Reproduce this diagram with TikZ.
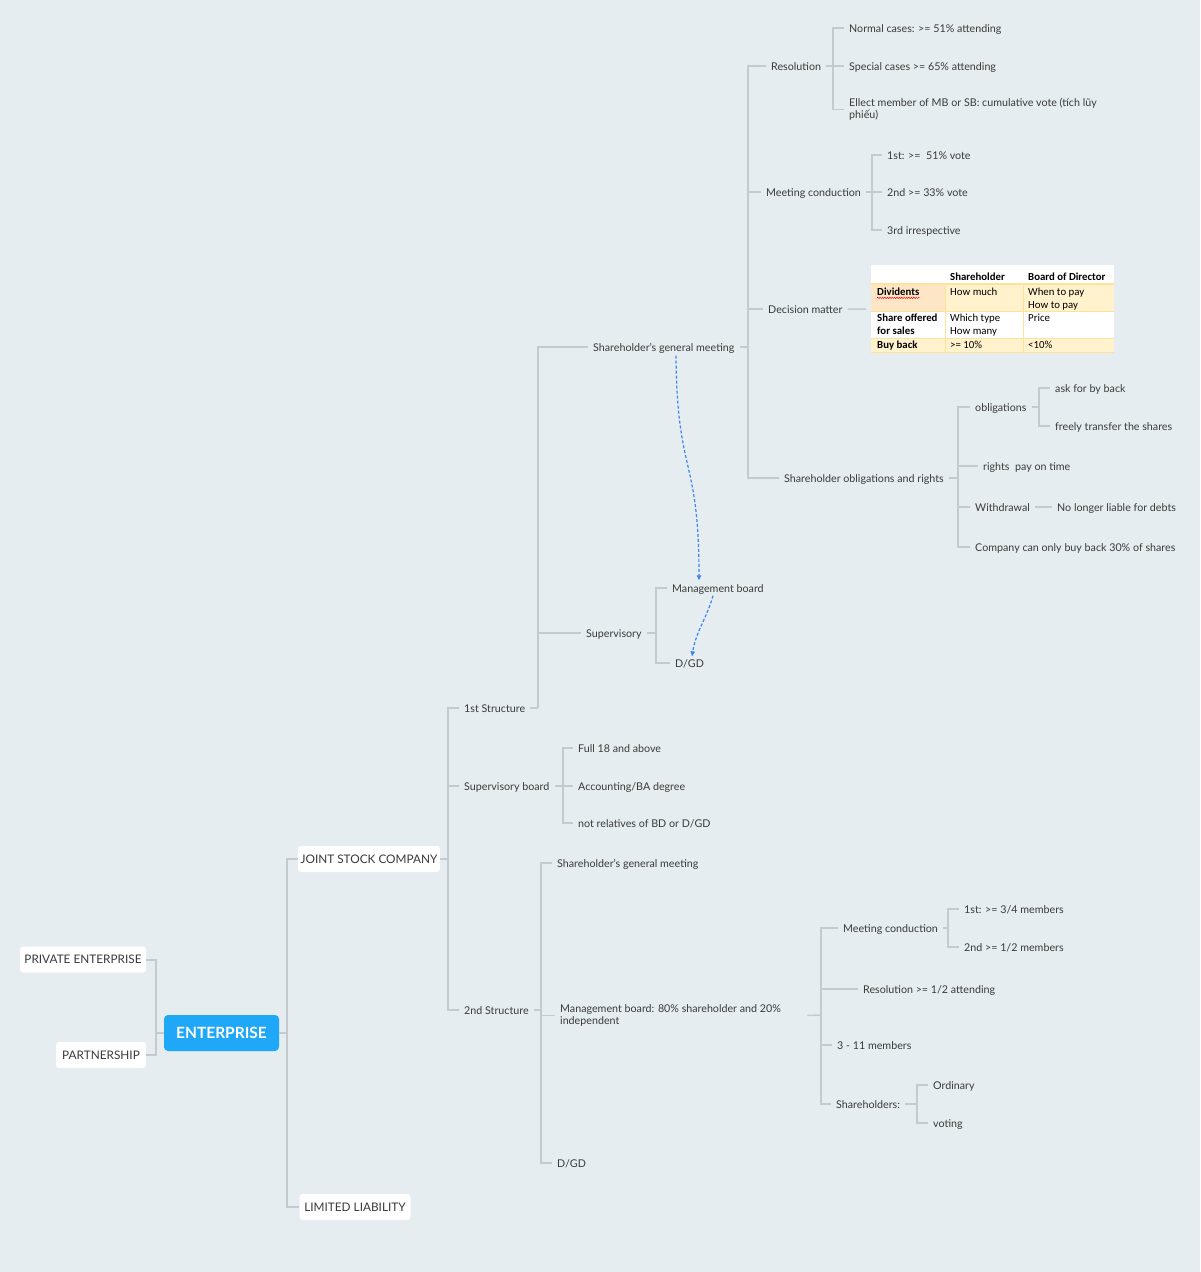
\documentclass[tikz,border=0pt]{standalone}
\usepackage{fontspec}
\setmainfont{Lato}
\newfontfamily\tabfont{Carlito}
\usetikzlibrary{calc,decorations.pathmorphing,arrows.meta}
\definecolor{bg}{HTML}{E6EDF0}
\definecolor{ln}{HTML}{C4CACE}
\definecolor{tx}{HTML}{3A3A3A}
\definecolor{entb}{HTML}{1EA8F7}
\definecolor{arr}{HTML}{3D85F0}
\definecolor{yel}{HTML}{FFF2CC}
\definecolor{yline}{HTML}{FFE29A}
\definecolor{divc}{HTML}{FCE6C6}
\begin{document}
\begin{tikzpicture}[x=1pt,y=-1pt,
 t/.style={anchor=west, inner xsep=5pt, inner ysep=1pt, text=tx, font=\fontsize{10.7}{12}\selectfont, text height=9pt, text depth=0pt},
 tm/.style={anchor=west, inner xsep=5pt, inner ysep=1pt, text=tx, font=\fontsize{10.7}{12}\selectfont, align=left},
 bx/.style={fill=white, rounded corners=3pt, text=tx, font=\fontsize{11.8}{13}\selectfont, minimum height=26pt, inner sep=0pt},
 br/.style={draw=ln, line width=1.5pt},
 br2/.style={draw=ln, line width=2pt},
 da/.style={draw=arr, dash pattern=on 3pt off 2pt, line width=1.2pt, -{Triangle[length=5pt,width=4.5pt]}},
 tb/.style={anchor=west, inner sep=0pt, font=\tabfont\fontsize{10.8}{12}\selectfont, text=black, text height=6.8pt, text depth=0pt},
 tbb/.style={tb, font=\tabfont\bfseries\fontsize{10.8}{12}\selectfont},
]
\useasboundingbox (0,0) rectangle (1200,1272);
\fill[bg] (0,0) rectangle (1200,1272);

% ---------- root and first level ----------
\node[bx, fill=entb, text=white, font=\bfseries\fontsize{15.5}{17}\selectfont, minimum width=115pt, minimum height=36pt, rounded corners=4pt] (ent) at (221.5,1033) {ENTERPRISE};
\node[bx, minimum width=126pt] (pe) at (83,959.5) {PRIVATE ENTERPRISE};
\node[bx, minimum width=90pt] (pa) at (101,1055) {PARTNERSHIP};
\node[bx, minimum width=142pt] (jsc) at (369,859) {JOINT STOCK COMPANY};
\node[bx, minimum width=111pt] (ll) at (355,1207) {LIMITED LIABILITY};

\coordinate (sL) at (156,1033);
\coordinate (sR) at (287,1033);
\draw[br2] (ent.west) -- (sL);
\draw[br2] (sL) |- (pe.east);
\draw[br2] (sL) |- (pa.east);
\draw[br2] (ent.east) -- (sR);
\draw[br2] (sR) |- (jsc.west);
\draw[br2] (sR) |- (ll.west);

% ---------- JSC children ----------
\node[t] (st1) at (459,708) {1st Structure};
\node[t] (svb) at (459,786) {Supervisory board};
\node[t] (st2) at (459,1010) {2nd Structure};
\coordinate (sJ) at (448,859);
\draw[br] (jsc.east) -- (sJ);
\draw[br] (sJ) |- (st1.west);
\draw[br] (sJ) |- (svb.west);
\draw[br] (sJ) |- (st2.west);

% ---------- 1st Structure ----------
\node[t] (sgm) at (588,347) {Shareholder's general meeting};
\node[t] (sup) at (581,633) {Supervisory};
\coordinate (sS1) at (538,708);
\draw[br] (st1.east) -- (sS1);
\draw[br] (sS1) |- (sgm.west);
\draw[br] (sS1) |- (sup.west);

% ---------- Shareholder's general meeting ----------
\node[t] (res) at (766,66) {Resolution};
\node[t] (mc) at (761,192) {Meeting conduction};
\node[t] (dm) at (763,309) {Decision matter};
\node[t] (sor) at (779,478) {Shareholder obligations and rights};
\coordinate (sSG) at (748,347);
\draw[br] (sgm.east) -- (sSG);
\draw[br] (sSG) |- (res.west);
\draw[br] (sSG) |- (mc.west);
\draw[br] (sSG) |- (dm.west);
\draw[br] (sSG) |- (sor.west);

% Resolution
\node[t] (nc) at (844,28) {Normal cases: >= 51\% attending};
\node[t] (sc) at (844,66) {Special cases >= 65\% attending};
\node[tm] (el) at (844,109.5) {Ellect member of MB or SB: cumulative vote (tích lũy\\phiếu)};
\coordinate (sRes) at (833,66);
\draw[br] (res.east) -- (sRes);
\draw[br] (sRes) |- (nc.west);
\draw[br] (sRes) |- (sc.west);
\draw[br] (sRes) |- (el.west);

% Meeting conduction
\node[t] (v1) at (882,155) {1st: >=~ 51\% vote};
\node[t] (v2) at (882,192) {2nd >= 33\% vote};
\node[t] (v3) at (882,230) {3rd irrespective};
\coordinate (sMC) at (872,192);
\draw[br] (mc.east) -- (sMC);
\draw[br] (sMC) |- (v1.west);
\draw[br] (sMC) |- (v2.west);
\draw[br] (sMC) |- (v3.west);

% Decision matter table
\node[fill=white, minimum width=243pt, minimum height=88pt, inner sep=0pt, anchor=north west] (tbl) at (871,265) {};
\draw[br] (dm.east) -- ([xshift=-5pt]tbl.west);
\fill[yel] (871,284) rectangle (1114,311);
\fill[yel] (871,338) rectangle (1114,352);
\fill[divc] (871,284.5) rectangle (945,310.5);
\draw[yline, line width=1.6pt] (871,284) -- (1114,284);
\draw[yline, line width=1pt] (871,311) -- (1114,311) (871,338) -- (1114,338) (871,352) -- (1114,352);
\draw[yline, line width=0.8pt] (945,284) -- (945,352) (1023,284) -- (1023,352);
\node[tbb] (h1) at (950,277) {Shareholder};
\node[tbb] (h2) at (1028,277) {Board of Director};
\node[tbb] (r1a) at (877,292) {Dividents};
\draw[red, line width=0.5pt, decorate, decoration={snake, amplitude=0.6pt, segment length=2.4pt}] ([yshift=-2.3pt]r1a.south west) -- ([yshift=-2.3pt]r1a.south east);
\node[tb] (r1b) at (950,292) {How much};
\node[tb] (r1c) at (1028,292) {When to pay};
\node[tb] (r1d) at (1028,305.5) {How to pay};
\node[tbb] (r2a) at (877,318.5) {Share offered};
\node[tbb] (r2b) at (877,331.5) {for sales};
\node[tb] (r2c) at (950,318.5) {Which type};
\node[tb] (r2d) at (950,331.5) {How many};
\node[tb] (r2e) at (1028,318.5) {Price};
\node[tbb] (r3a) at (877,345) {Buy back};
\node[tb] (r3b) at (950,345) {>= 10\%};
\node[tb] (r3c) at (1028,345) {<10\%};

% Shareholder obligations and rights
\node[t] (obl) at (970,407) {obligations};
\node[t] (rig) at (978,466) {rights~ pay on time};
\node[t] (wd) at (970,507) {Withdrawal};
\node[t] (cb) at (970,547) {Company can only buy back 30\% of shares};
\coordinate (sSO) at (958,478);
\draw[br] (sor.east) -- (sSO);
\draw[br] (sSO) |- (obl.west);
\draw[br] (sSO) |- (rig.west);
\draw[br] (sSO) |- (wd.west);
\draw[br] (sSO) |- (cb.west);

\node[t] (ask) at (1050,388) {ask for by back};
\node[t] (ft) at (1050,426) {freely transfer the shares};
\coordinate (sOb) at (1039,407);
\draw[br] (obl.east) -- (sOb);
\draw[br] (sOb) |- (ask.west);
\draw[br] (sOb) |- (ft.west);

\node[t] (nl) at (1052,507) {No longer liable for debts};
\draw[br] (wd.east) -- (nl.west);

% Supervisory
\node[t] (mb1) at (667,588) {Management board};
\node[t] (dg1) at (670,663) {D/GD};
\coordinate (sSup) at (656,633);
\draw[br] (sup.east) -- (sSup);
\draw[br] (sSup) |- (mb1.west);
\draw[br] (sSup) |- (dg1.west);

% dashed arrows
\draw[da] ($(sgm.south west)+(88,3)$) .. controls ($(sgm.south west)+(89,124)$) and ($(mb1.north west)+(32,-127)$) .. ($(mb1.north west)+(32,-2)$);
\draw[da] ($(mb1.south west)+(46,2)$) .. controls ($(mb1.south west)+(40,24)$) and ($(dg1.north west)+(26,-26)$) .. ($(dg1.north west)+(22,-1)$);

% Supervisory board
\node[t] (f18) at (573,748) {Full 18 and above};
\node[t] (acc) at (573,786) {Accounting/BA degree};
\node[t] (nr) at (573,823) {not relatives of BD or D/GD};
\coordinate (sSB) at (563,786);
\draw[br] (svb.east) -- (sSB);
\draw[br] (sSB) |- (f18.west);
\draw[br] (sSB) |- (acc.west);
\draw[br] (sSB) |- (nr.west);

% 2nd Structure
\node[t] (sgm2) at (552,863) {Shareholder's general meeting};
\node[tm, align=flush left, text width=242pt] (mb2) at (555,1015.5) {Management board: 80\% shareholder and 20\%\\independent};
\node[t] (dg2) at (552,1163) {D/GD};
\coordinate (sS2) at (541,1010);
\draw[br] (st2.east) -- (sS2);
\draw[br] (sS2) |- (sgm2.west);
\draw[br] (sS2) |- (mb2.west);
\draw[br] (sS2) |- (dg2.west);

\node[t] (mc2) at (838,928) {Meeting conduction};
\node[t] (rs2) at (858,989) {Resolution >= 1/2 attending};
\node[t] (m311) at (832,1045) {3 - 11 members};
\node[t] (shs) at (831,1104) {Shareholders:};
\coordinate (sMB2) at (821,1015);
\draw[br] (mb2.east) -- (sMB2);
\draw[br] (sMB2) |- (mc2.west);
\draw[br] (sMB2) |- (rs2.west);
\draw[br] (sMB2) |- (m311.west);
\draw[br] (sMB2) |- (shs.west);

\node[t] (m1) at (959,909) {1st: >= 3/4 members};
\node[t] (m2) at (959,947) {2nd >= 1/2 members};
\coordinate (sMC2) at (948,928);
\draw[br] (mc2.east) -- (sMC2);
\draw[br] (sMC2) |- (m1.west);
\draw[br] (sMC2) |- (m2.west);

\node[t] (ord) at (928,1085) {Ordinary};
\node[t] (vot) at (928,1123) {voting};
\coordinate (sSh) at (917,1104);
\draw[br] (shs.east) -- (sSh);
\draw[br] (sSh) |- (ord.west);
\draw[br] (sSh) |- (vot.west);
\end{tikzpicture}
\end{document}
